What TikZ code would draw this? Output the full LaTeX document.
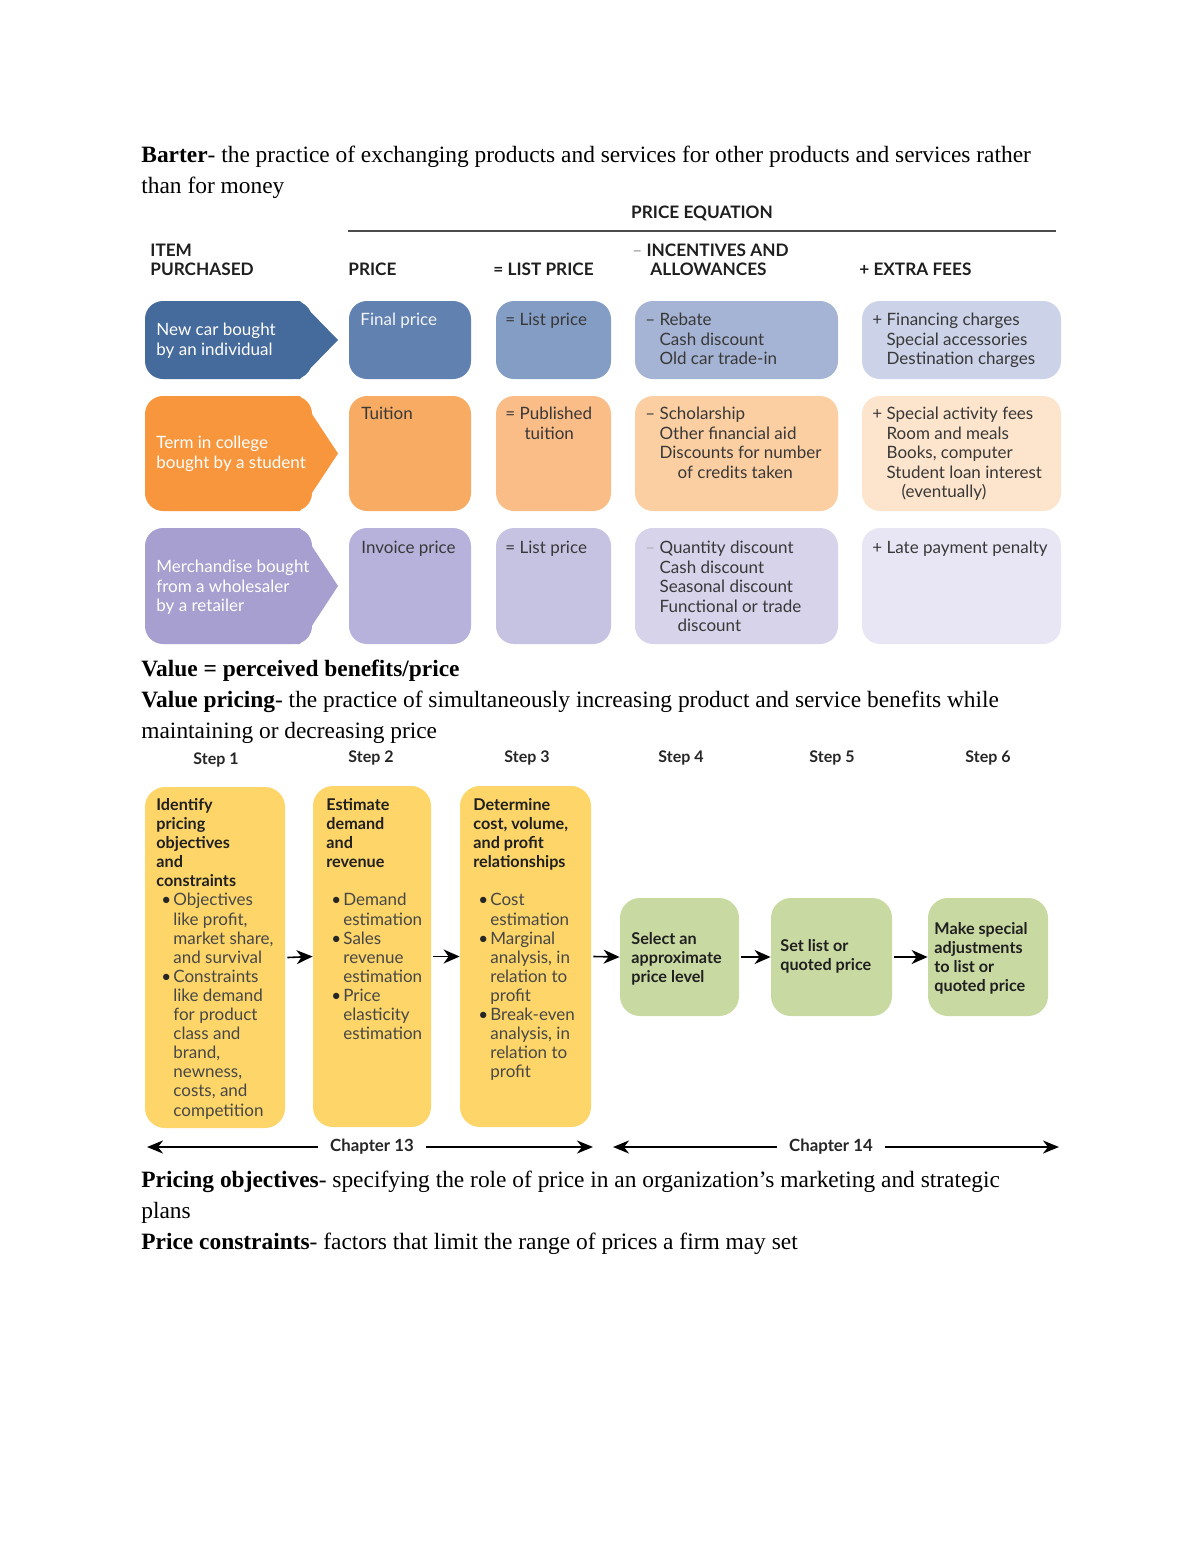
\documentclass[tikz,border=0pt]{standalone}
\usepackage{fontspec}
\setmainfont{Liberation Serif}
\setsansfont{Lato}
\usetikzlibrary{fit,arrows.meta}
\definecolor{c1a}{HTML}{456A9C}\definecolor{c1p}{HTML}{6181B0}\definecolor{c1l}{HTML}{849DC5}\definecolor{c1i}{HTML}{A5B4D4}\definecolor{c1e}{HTML}{CCD3E8}
\definecolor{c2a}{HTML}{F7963C}\definecolor{c2p}{HTML}{F8AB63}\definecolor{c2l}{HTML}{FABD88}\definecolor{c2i}{HTML}{FCCFA3}\definecolor{c2e}{HTML}{FDE4CC}
\definecolor{c3a}{HTML}{A69FCF}\definecolor{c3p}{HTML}{B7B2DC}\definecolor{c3l}{HTML}{C6C2E2}\definecolor{c3i}{HTML}{D7D3EB}\definecolor{c3e}{HTML}{E8E6F4}
\definecolor{stepyellow}{HTML}{FDD568}\definecolor{stepgreen}{HTML}{C9D9A2}
\definecolor{faint}{HTML}{B0B0B0}
\newcommand\pI{\phantom{– }}
\newcommand\pP{\phantom{+ }}
\newcommand\hd[1]{\textcolor{black!88}{\fontsize{8.1}{9.55}\selectfont\textbf{#1}}}
\newcommand\bul{\makebox[8.5pt][l]{\hspace{2.5pt}\textcolor{black!85}{\textbullet}}}
\newcommand\ind{\hspace{8.5pt}}
\begin{document}
\begin{tikzpicture}[x=0.5pt,y=-0.5pt,
  body/.style={font=\rmfamily\fontsize{11.7}{15.5}\selectfont, anchor=base west, inner sep=0pt},
  colhead/.style={font=\sffamily\bfseries\fontsize{8.6}{9.5}\selectfont, anchor=north west, inner sep=0pt, align=left, text=black!88},
  celltext/.style={font=\sffamily\fontsize{8.5}{9.75}\selectfont, anchor=north west, inner sep=0pt, align=left, text=black!78},
  itemtext/.style={celltext, text=white},
  cell/.style={rounded corners=9pt, inner sep=0pt, draw=none},
  stepbox/.style={rounded corners=10pt, inner sep=0pt, draw=none},
  steptext/.style={font=\sffamily\fontsize{8.5}{9.55}\selectfont, anchor=north west, inner sep=0pt, align=left, text=black!72},
  greentext/.style={font=\sffamily\bfseries\fontsize{8.1}{9.55}\selectfont, anchor=north west, inner sep=0pt, align=left, text=black!88},
  steplabel/.style={font=\sffamily\bfseries\fontsize{8}{9.6}\selectfont, inner sep=0pt, text=black!85, text height=5.8pt, text depth=1.6pt},
  flow/.style={line width=0.8pt, -{Stealth[length=8pt,width=7pt,inset=2.5pt]}},
  chap/.style={line width=1.1pt, -{Stealth[length=8pt,width=6.5pt,inset=2.5pt]}},
]
\useasboundingbox[fill=white] (0,0) rectangle (1200,1553);

% ---------- body text ----------
\node[body] (barter1) at (141,162) {\textbf{Barter}- the practice of exchanging products and services for other products and services rather};
\node[body] (barter2) at (141,193) {than for money};

% ---------- table header ----------
\node[colhead, anchor=center] (peq) at (702,213) {PRICE EQUATION};
\coordinate (eqL) at (348,231); \coordinate (eqR) at (1056,231);
\draw[black!70, line width=0.6pt] (eqL) -- (eqR);
\node[colhead] (hitem) at (150,244) {ITEM\\PURCHASED};
\node[colhead] (hprice) at (348,263) {PRICE};
\node[colhead] (hlist) at (493,263) {= LIST PRICE};
\node[colhead] (hinc) at (632,244) {\textcolor{faint}{–} INCENTIVES AND\\\hspace{9pt}ALLOWANCES};
\node[colhead] (hext) at (859,263) {+ EXTRA FEES};

% ---------- item arrows ----------
\fill[c1a, rounded corners=9pt] (145,301) rectangle (312,379);
\fill[c1a] (295,301) -- (300,301) -- (338,340) -- (300,379) -- (295,379) -- cycle;
\fill[c2a, rounded corners=9pt] (145,396) rectangle (312,511);
\fill[c2a] (295,396) -- (300,396) -- (338,453.5) -- (300,511) -- (295,511) -- cycle;
\fill[c3a, rounded corners=9pt] (145,528) rectangle (312,644);
\fill[c3a] (295,528) -- (300,528) -- (338,586) -- (300,644) -- (295,644) -- cycle;

% ---------- row 1 ----------
\node[cell, fill=c1p, fit={(349,301) (471,379)}] (r1p) {};
\node[cell, fill=c1l, fit={(496,301) (611,379)}] (r1l) {};
\node[cell, fill=c1i, fit={(635,301) (838,379)}] (r1i) {};
\node[cell, fill=c1e, fit={(862,301) (1061,379)}] (r1e) {};
% ---------- row 2 ----------
\node[cell, fill=c2p, fit={(349,396) (471,511)}] (r2p) {};
\node[cell, fill=c2l, fit={(496,396) (611,511)}] (r2l) {};
\node[cell, fill=c2i, fit={(635,396) (838,511)}] (r2i) {};
\node[cell, fill=c2e, fit={(862,396) (1061,511)}] (r2e) {};
% ---------- row 3 ----------
\node[cell, fill=c3p, fit={(349,528) (471,644)}] (r3p) {};
\node[cell, fill=c3l, fit={(496,528) (611,644)}] (r3l) {};
\node[cell, fill=c3i, fit={(635,528) (838,644)}] (r3i) {};
\node[cell, fill=c3e, fit={(862,528) (1061,644)}] (r3e) {};

% ---------- cell texts ----------
\node[itemtext] (r1at) at (156,323) {New car bought\\by an individual};
\node[celltext, text=white!92!c1p] (r1pt) at (360,313) {Final price};
\node[celltext] (r1lt) at (505,313) {= List price};
\node[celltext] (r1it) at (645,313) {– Rebate\\\pI Cash discount\\\pI Old car trade-in};
\node[celltext] (r1et) at (872,313) {+ Financing charges\\\pP Special accessories\\\pP Destination charges};

\node[itemtext] (r2at) at (156,436) {Term in college\\bought by a student};
\node[celltext] (r2pt) at (361,407) {Tuition};
\node[celltext] (r2lt) at (505,407) {= Published\\\pP\hspace{2.5pt}tuition};
\node[celltext] (r2it) at (645,407) {– Scholarship\\\pI Other financial aid\\\pI Discounts for number\\\pI\hspace{9pt}of credits taken};
\node[celltext] (r2et) at (872,407) {+ Special activity fees\\\pP Room and meals\\\pP Books, computer\\\pP Student loan interest\\\pP\hspace{7.5pt}(eventually)};

\node[itemtext] (r3at) at (156,560) {Merchandise bought\\from a wholesaler\\by a retailer};
\node[celltext] (r3pt) at (361,541) {Invoice price};
\node[celltext] (r3lt) at (505,541) {= List price};
\node[celltext] (r3it) at (645,541) {\textcolor{faint}{–} Quantity discount\\\pI Cash discount\\\pI Seasonal discount\\\pI Functional or trade\\\pI\hspace{9pt}discount};
\node[celltext] (r3et) at (872,541) {+ Late payment penalty};

% ---------- value text ----------
\node[body] (value1) at (141,676) {\textbf{Value = perceived benefits/price}};
\node[body] (value2) at (141,707) {\textbf{Value pricing}- the practice of simultaneously increasing product and service benefits while};
\node[body] (value3) at (141,738) {maintaining or decreasing price};

% ---------- steps ----------
\node[steplabel] (l1) at (216,760) {Step 1};
\node[steplabel] (l2) at (371,758) {Step 2};
\node[steplabel] (l3) at (527,758) {Step 3};
\node[steplabel] (l4) at (681,758) {Step 4};
\node[steplabel] (l5) at (832,758) {Step 5};
\node[steplabel] (l6) at (988,758) {Step 6};

\node[stepbox, fill=stepyellow, fit={(145,787) (285,1128)}] (s1) {};
\node[stepbox, fill=stepyellow, fit={(313,786) (431,1127)}] (s2) {};
\node[stepbox, fill=stepyellow, fit={(460,786) (591,1127)}] (s3) {};
\node[stepbox, fill=stepgreen, fit={(620,898) (739,1016)}] (s4) {};
\node[stepbox, fill=stepgreen, fit={(771,898) (892,1016)}] (s5) {};
\node[stepbox, fill=stepgreen, fit={(928,898) (1048,1016)}] (s6) {};

\node[steptext] (s1t) at (156,798) {\hd{Identify}\\\hd{pricing}\\\hd{objectives}\\\hd{and}\\\hd{constraints}\\
\bul Objectives\\\ind like profit,\\\ind market share,\\\ind and survival\\
\bul Constraints\\\ind like demand\\\ind for product\\\ind class and\\\ind brand,\\\ind newness,\\\ind costs, and\\\ind competition};
\node[steptext] (s2t) at (326,798) {\hd{Estimate}\\\hd{demand}\\\hd{and}\\\hd{revenue}\\ \mbox{}\\
\bul Demand\\\ind estimation\\\bul Sales\\\ind revenue\\\ind estimation\\\bul Price\\\ind elasticity\\\ind estimation};
\node[steptext] (s3t) at (473,798) {\hd{Determine}\\\hd{cost, volume,}\\\hd{and profit}\\\hd{relationships}\\ \mbox{}\\
\bul Cost\\\ind estimation\\\bul Marginal\\\ind analysis, in\\\ind relation to\\\ind profit\\\bul Break-even\\\ind analysis, in\\\ind relation to\\\ind profit};
\node[greentext] (s4t) at (631,932) {Select an\\approximate\\price level};
\node[greentext] (s5t) at (780,939) {Set list or\\quoted price};
\node[greentext] (s6t) at (934,922) {Make special\\adjustments\\to list or\\quoted price};

\draw[flow] ([xshift=1pt]s1.east) -- (s2.west);
\draw[flow] ([xshift=1pt]s2.east) -- (s3.west);
\draw[flow] ([xshift=1pt]s3.east) -- (s4.west);
\draw[flow] ([xshift=1pt]s4.east) -- (s5.west);
\draw[flow] ([xshift=1pt]s5.east) -- (s6.west);

% ---------- chapters ----------
\node[steplabel, inner xsep=6pt, font=\sffamily\bfseries\fontsize{8.4}{9.6}\selectfont] (ch13) at (372,1147) {Chapter 13};
\node[steplabel, inner xsep=6pt, font=\sffamily\bfseries\fontsize{8.4}{9.6}\selectfont] (ch14) at (831,1147) {Chapter 14};
\coordinate (c13l) at (147,1147); \coordinate (c13r) at (593,1147);
\coordinate (c14l) at (613,1147); \coordinate (c14r) at (1059,1147);
\draw[chap] (ch13.west) -- (c13l);
\draw[chap] (ch13.east) -- (c13r);
\draw[chap] (ch14.west) -- (c14l);
\draw[chap] (ch14.east) -- (c14r);

% ---------- definitions ----------
\node[body] (po1) at (141,1187) {\textbf{Pricing objectives}- specifying the role of price in an organization’s marketing and strategic};
\node[body] (po2) at (141,1218) {plans};
\node[body] (pc1) at (141,1249) {\textbf{Price constraints}- factors that limit the range of prices a firm may set};
\end{tikzpicture}
\end{document}
